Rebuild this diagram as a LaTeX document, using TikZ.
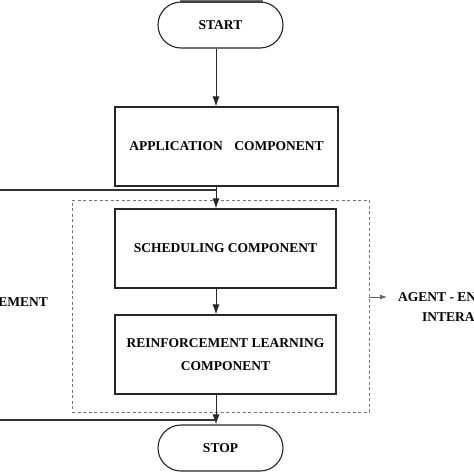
\documentclass[tikz,border=0pt]{standalone}
\usepackage{fontspec}
\setmainfont{Liberation Serif}
\usetikzlibrary{arrows.meta}
\begin{document}
\begin{tikzpicture}[x=1pt,y=1pt,
  box/.style={draw=black!85, line width=1.2pt, minimum width=221pt, minimum height=79pt, inner sep=0pt, align=center, font=\bfseries\fontsize{13.5}{23.5}\selectfont},
  term/.style={draw=black!85, line width=1.1pt, minimum width=125pt, minimum height=46pt, rounded corners=23pt, inner sep=0pt, font=\bfseries\fontsize{13.5}{16}\selectfont},
  lbl/.style={inner sep=0pt, font=\bfseries\fontsize{13.5}{19.5}\selectfont},
  flow/.style={draw=black!85, line width=1pt, -{Latex[length=10pt,width=7pt]}},
  wire/.style={draw=black!80, line width=1.5pt},
  grp/.style={draw=black!55, line width=0.9pt, dash pattern=on 3pt off 2.5pt, minimum width=297pt, minimum height=212pt, inner sep=0pt}]
\useasboundingbox (0,0) rectangle (474,-474);
\fill[black!55] (180,0) rectangle (263,-3);
\node[term] (start) at (220.5,-25) {START};
\node[box, minimum width=223pt] (app) at (226.5,-146.5) {APPLICATION\hspace{8pt} COMPONENT};
\node[grp] (group) at (220.5,-306) {};
\node[box] (sched) at (225.5,-248.5) {SCHEDULING COMPONENT};
\node[box] (rl) at (225.5,-354.5) {REINFORCEMENT LEARNING\\COMPONENT};
\node[term] (stop) at (220.5,-448) {STOP};
\node[lbl, anchor=east] (mgmt) at (48,-302) {EMENT};
\node[lbl, anchor=west] (agent) at (398,-297) {AGENT - ENV};
\node[lbl, anchor=west] (inter) at (422,-317) {INTERAC};
\coordinate (ax) at (216,0);
\coordinate (tl) at (0,-190);
\coordinate (bl) at (0,-420);
\coordinate (atip) at (387,-297);
\draw[flow] (start.south -| ax) -- (app.north -| ax);
\draw[flow] (app.south -| ax) -- (sched.north -| ax);
\draw[flow] (sched.south -| ax) -- (rl.north -| ax);
\draw[flow] (rl.south -| ax) -- (stop.north -| ax);
\draw[wire] (tl) -- (tl -| ax);
\draw[wire] (bl) -- (bl -| ax);
\draw[draw=black!60, line width=0.8pt, -{Latex[length=7pt,width=5pt]}] (group.east |- atip) -- (atip);
\end{tikzpicture}
\end{document}
